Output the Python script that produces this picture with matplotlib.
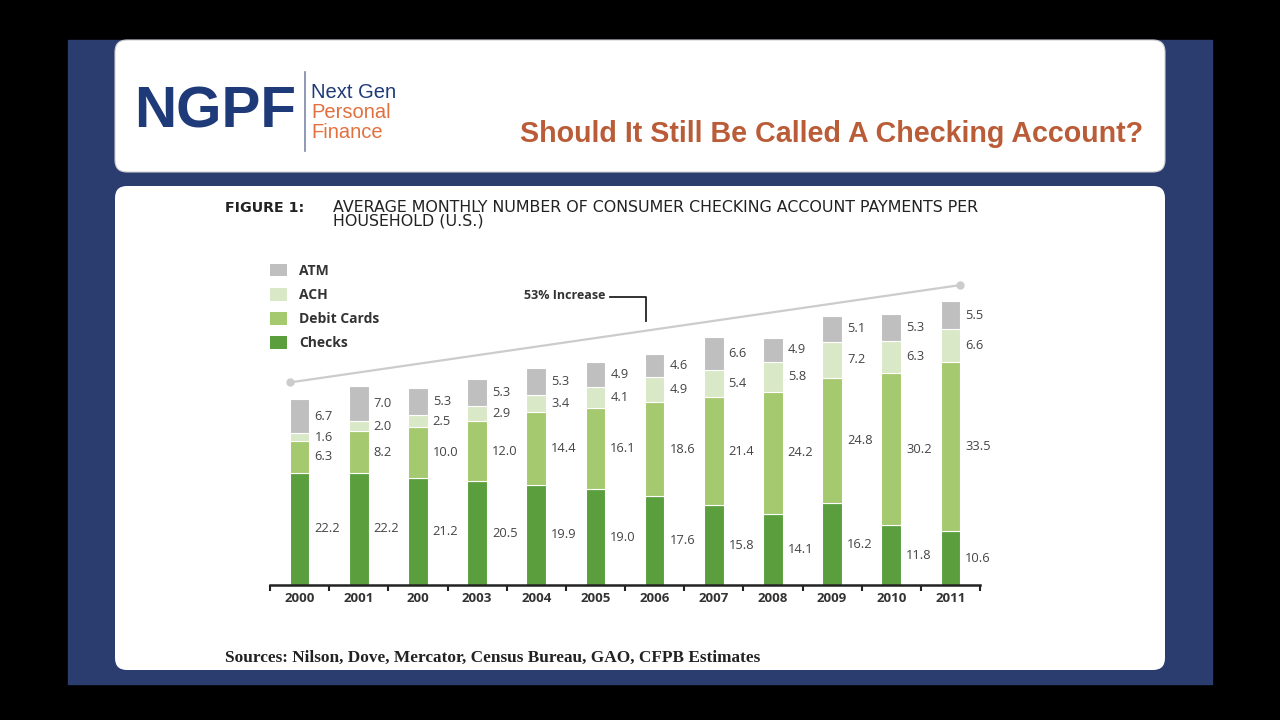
import matplotlib
matplotlib.use("Agg")
import matplotlib.pyplot as plt
from matplotlib.patches import FancyBboxPatch, Rectangle, Patch
import numpy as np

# data
years = ["2000", "2001", "200", "2003", "2004", "2005", "2006", "2007", "2008", "2009", "2010", "2011"]
checks = [22.2, 22.2, 21.2, 20.5, 19.9, 19.0, 17.6, 15.8, 14.1, 16.2, 11.8, 10.6]
debit = [6.3, 8.2, 10.0, 12.0, 14.4, 16.1, 18.6, 21.4, 24.2, 24.8, 30.2, 33.5]
ach = [1.6, 2.0, 2.5, 2.9, 3.4, 4.1, 4.9, 5.4, 5.8, 7.2, 6.3, 6.6]
atm = [6.7, 7.0, 5.3, 5.3, 5.3, 4.9, 4.6, 6.6, 4.9, 5.1, 5.3, 5.5]

series = [("Checks", checks, "#5a9e3e"),
          ("Debit Cards", debit, "#a5c96f"),
          ("ACH", ach, "#d9e8c6"),
          ("ATM", atm, "#bfbfbf")]

navy = "#1f3a78"
orange = "#e2703f"

fig = plt.figure(figsize=(12.8, 7.2), dpi=100, facecolor="black")

# background layer in pixel coordinates
bg = fig.add_axes([0, 0, 1, 1])
bg.set_xlim(0, 1280)
bg.set_ylim(720, 0)
bg.axis("off")
bg.add_patch(Rectangle((68, 40), 1144, 644, color="#2b3d6f", zorder=0))
bg.add_patch(FancyBboxPatch((115, 40), 1050, 132, boxstyle="round,pad=0,rounding_size=12",
                            fc="white", ec="#cfcfcf", lw=0.8, zorder=1))
bg.add_patch(FancyBboxPatch((115, 186), 1050, 484, boxstyle="round,pad=0,rounding_size=12",
                            fc="white", ec="none", zorder=1))

# header logo
bg.text(134, 112, "NGPF", color=navy, fontsize=42, fontweight="bold",
        family="Liberation Sans", va="center", ha="left", zorder=2)
bg.plot([305, 305], [72, 151], color="#7c86a8", lw=1.2, zorder=2)
bg.text(311, 92, "Next Gen", color=navy, fontsize=14.5, family="Liberation Sans",
        va="center", ha="left", zorder=2)
bg.text(311, 113, "Personal", color=orange, fontsize=14.5, family="Liberation Sans",
        va="center", ha="left", zorder=2)
bg.text(311, 133, "Finance", color=orange, fontsize=14.5, family="Liberation Sans",
        va="center", ha="left", zorder=2)
bg.text(1143, 134, "Should It Still Be Called A Checking Account?", color="#b95c37",
        fontsize=20.6, fontweight="bold", family="Liberation Sans",
        va="center", ha="right", zorder=2)

# figure caption
bg.text(225, 208, "FIGURE 1:", fontsize=10.3, fontweight="bold", family="DejaVu Sans",
        color="#222222", va="center", ha="left", zorder=2)
bg.text(333, 200, "AVERAGE MONTHLY NUMBER OF CONSUMER CHECKING ACCOUNT PAYMENTS PER\n"
        "HOUSEHOLD (U.S.)", fontsize=11.4, family="DejaVu Sans", color="#222222",
        va="top", ha="left", linespacing=0.86, zorder=2)
bg.text(225, 658, "Sources: Nilson, Dove, Mercator, Census Bureau, GAO, CFPB Estimates",
        fontsize=12.4, fontweight="bold", family="Liberation Serif", color="#222222",
        va="center", ha="left", zorder=2)

# chart
ax = fig.add_axes([270 / 1280, (720 - 585) / 720, 710 / 1280, 325 / 720])
ax.patch.set_alpha(0)
x = np.arange(len(years))
bottom = np.zeros(len(years))
for name, vals, col in series:
    vals = np.array(vals)
    ax.bar(x, vals, width=0.33, bottom=bottom, color=col, edgecolor="white", linewidth=0.8)
    for xi, b, v in zip(x, bottom, vals):
        ax.text(xi + 0.25, b + v / 2, f"{v:.1f}", fontsize=9.3, family="Open Sans",
                color="#444444", va="center", ha="left")
    bottom = bottom + vals

ax.set_xlim(-0.49, 11.5)
ax.set_ylim(0, 325 / 5.05)
ax.set_yticks([])
for s in ["left", "right", "top"]:
    ax.spines[s].set_visible(False)
ax.spines["bottom"].set_linewidth(1.8)
ax.spines["bottom"].set_color("#222222")
ax.set_xticks(x)
ax.set_xticklabels(years, fontsize=9.5, fontweight="bold", family="Open Sans", color="#333333")
ax.tick_params(axis="x", which="major", length=0, pad=5)
ax.set_xticks(np.arange(-0.5, 11.6, 1.0), minor=True)
ax.tick_params(axis="x", which="minor", length=4, width=1.5, color="#222222", direction="out")

# trend line above the totals
tx = [-0.17, 11.17]
ty = [bottom[0] + 3.3, bottom[-1] + 3.2]
ax.plot(tx, ty, color="#cccccc", lw=1.6, clip_on=False)
ax.plot(tx, ty, "o", color="#cccccc", ms=5, clip_on=False)
bx = 5.86
ax.plot([bx - 0.61, bx, bx], [57.0, 57.0, 52.2], color="#222222", lw=1.3, clip_on=False)
ax.text(bx - 0.7, 57.3, "53% Increase", fontsize=9, fontweight="bold", family="Open Sans",
        color="#333333", ha="right", va="center")

# legend
handles = [Patch(fc=col, ec="none", label=name) for name, vals, col in series[::-1]]
leg = fig.legend(handles=handles, loc="upper left", bbox_to_anchor=(270 / 1280, (720 - 264) / 720),
                 frameon=False, borderpad=0, borderaxespad=0, handlelength=1.22, handleheight=1.0,
                 handletextpad=0.86, labelspacing=0.73,
                 prop={"family": "Open Sans", "weight": "bold", "size": 10})
for t in leg.get_texts():
    t.set_color("#333333")

fig.savefig("out.png", dpi=100, facecolor="black")
